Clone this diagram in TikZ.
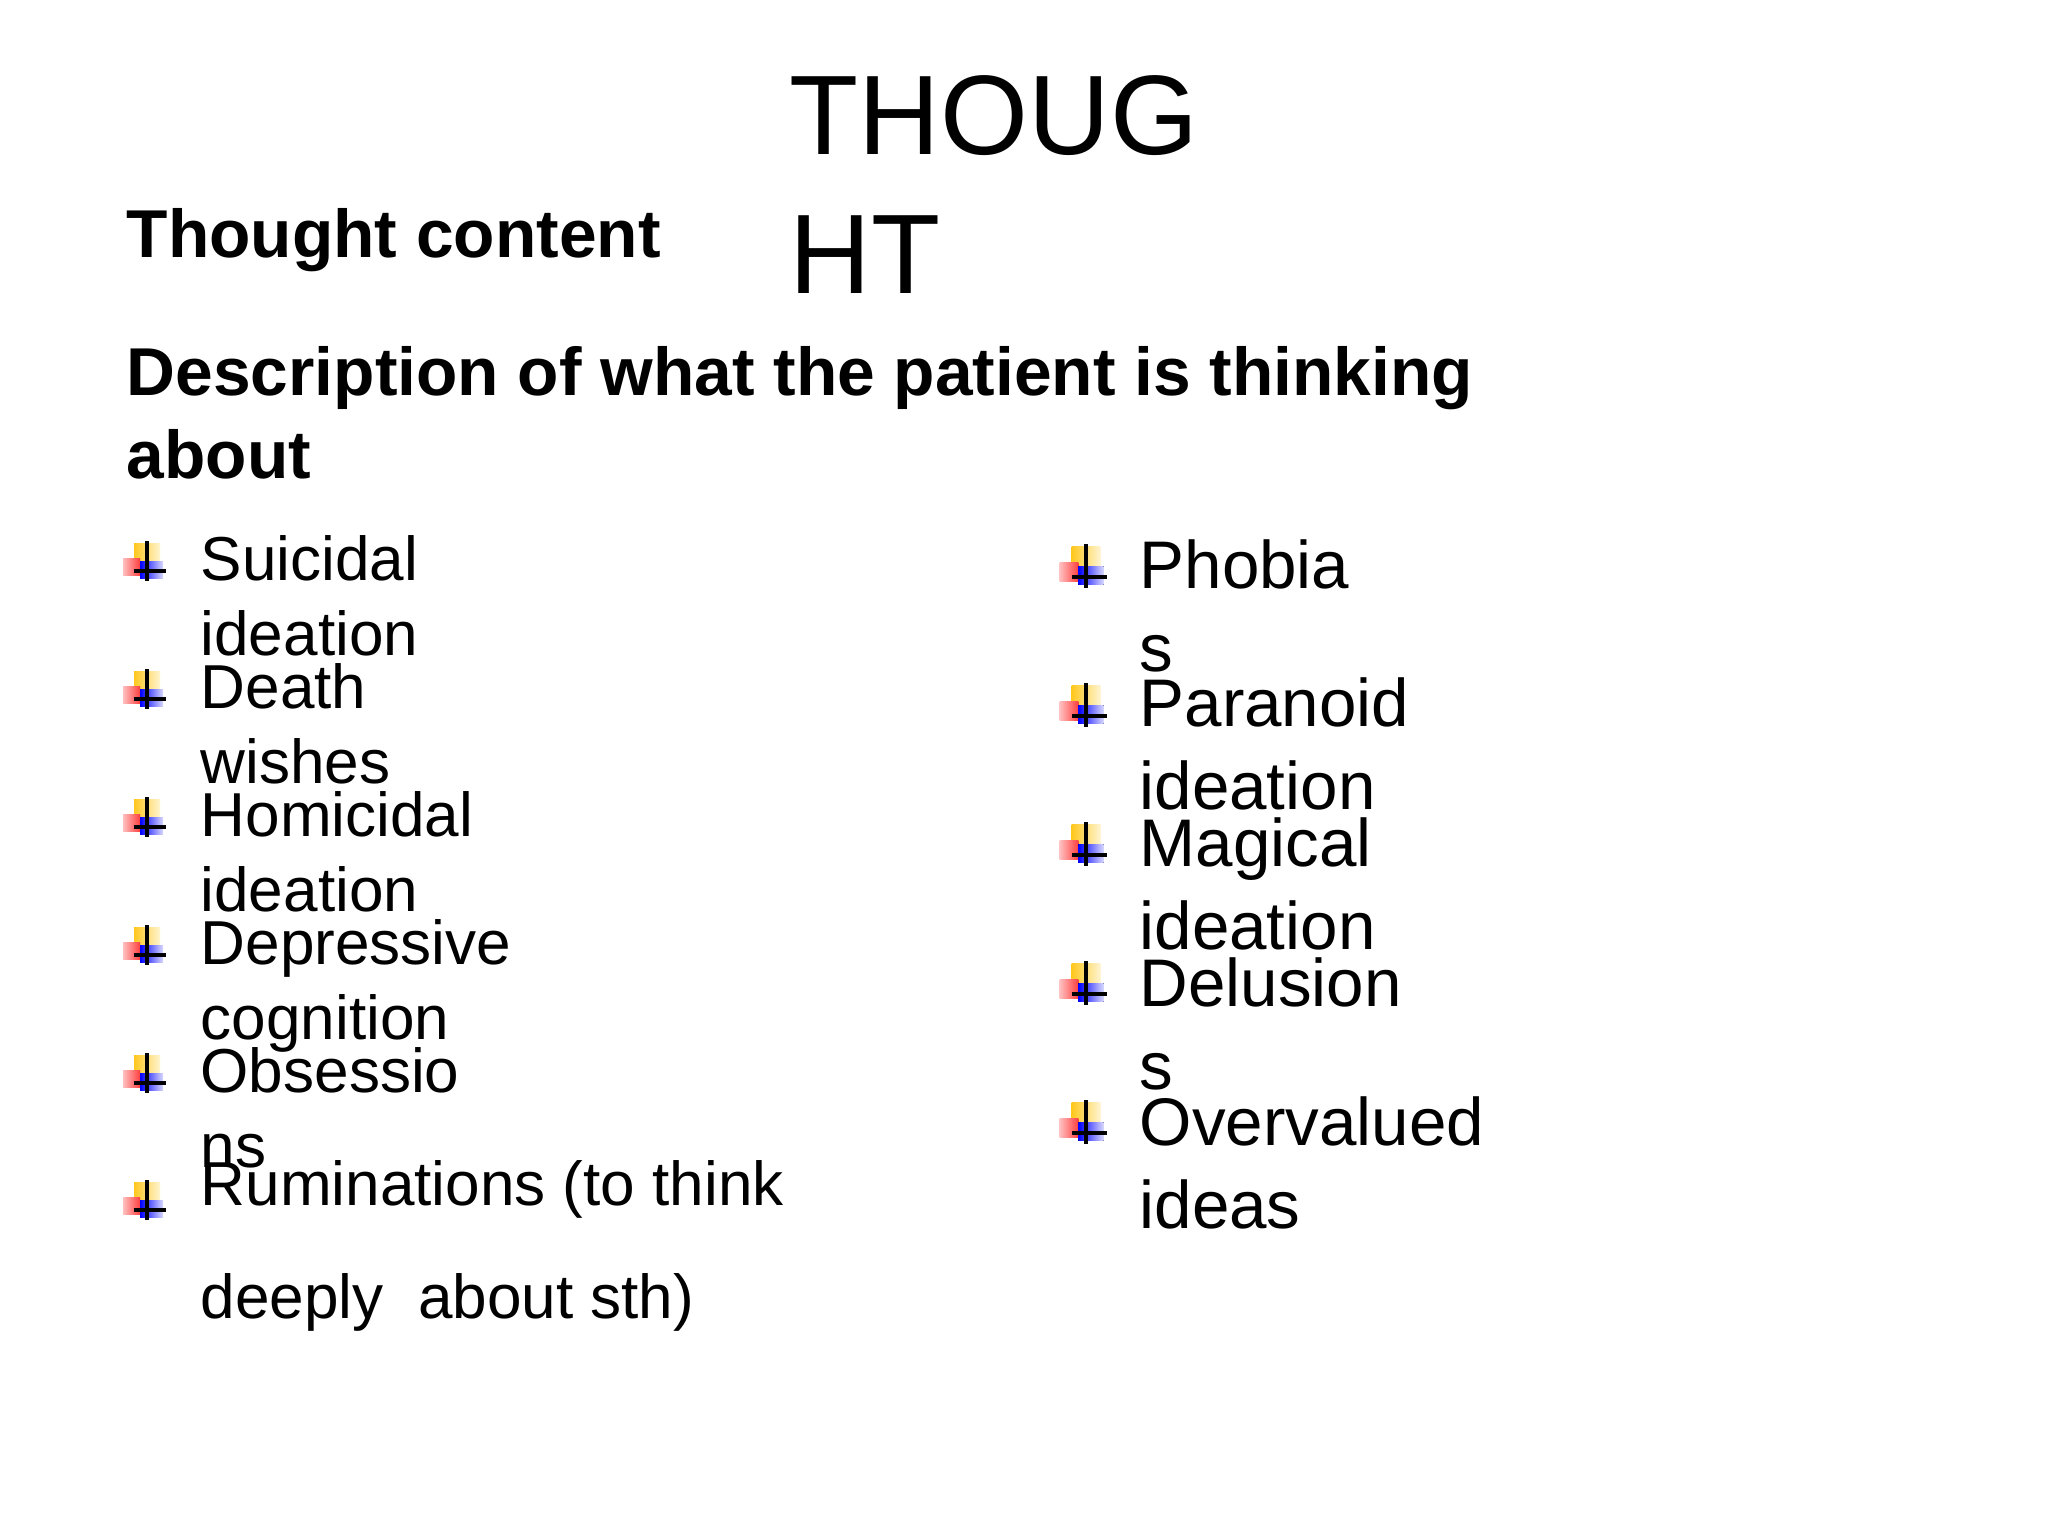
\documentclass[tikz,border=0pt]{standalone}
\usepackage{fontspec}
\setmainfont{Liberation Sans}
\definecolor{bulletyellow}{RGB}{255,200,30}
\tikzset{
    titletext/.style={anchor=base west,align=left,inner sep=0pt,font=\fontsize{32.15}{39.4}\selectfont},
    headtext/.style={anchor=base west,align=left,inner sep=0pt,font=\fontsize{19.25}{23.4}\selectfont\bfseries},
    leftitem/.style={anchor=base west,align=left,inner sep=0pt,font=\fontsize{17.65}{21.2}\selectfont},
    longitem/.style={anchor=base west,align=left,inner sep=0pt,font=\fontsize{17.65}{32}\selectfont},
    rightitem/.style={anchor=base west,align=left,inner sep=0pt,font=\fontsize{19.15}{23.4}\selectfont},
    bulletmark/.pic={
        \fill[left color=bulletyellow,right color=bulletyellow!20] (-13,-28) rectangle (13,-10);
        \fill[left color=red!25,right color=red!75] (-24,-13) rectangle (-7,4);
        \fill[left color=blue,right color=blue!15] (-7,-10) rectangle (16,7);
        \draw[line width=1.4pt,black] (0,-30) -- (0,10);
        \draw[line width=1.4pt,black] (-13,0) -- (19,0);
    }
}
\begin{document}
\begin{tikzpicture}[x=0.01cm,y=-0.01cm]
    \useasboundingbox (0,0) rectangle (2048,1536);
    \node[titletext] (title) at (789,293) {THOUG\\HT};
    \node[headtext] (content) at (126,257) {Thought content};
    \node[headtext] (descr) at (126,478) {Description of what the patient is thinking\\about};
    % left column
    \pic at (147,571) {bulletmark};
    \node[leftitem] (suicidal) at (200,655) {Suicidal\\ideation};
    \pic at (147,699) {bulletmark};
    \node[leftitem] (death) at (200,783) {Death\\wishes};
    \pic at (147,827) {bulletmark};
    \node[leftitem] (homicidal) at (200,911) {Homicidal\\ideation};
    \pic at (147,955) {bulletmark};
    \node[leftitem] (depressive) at (200,1039) {Depressive\\cognition};
    \pic at (147,1083) {bulletmark};
    \node[leftitem] (obsessions) at (200,1167) {Obsessio\\ns};
    \pic at (147,1210) {bulletmark};
    \node[longitem] (ruminations) at (200,1318) {Ruminations (to think\\deeply\ \ about sth)};
    % right column
    \pic[scale=1.1] at (1086,577) {bulletmark};
    \node[rightitem] (phobias) at (1139,671) {Phobia\\s};
    \pic[scale=1.1] at (1086,716) {bulletmark};
    \node[rightitem] (paranoid) at (1139,809) {Paranoid\\ideation};
    \pic[scale=1.1] at (1086,855) {bulletmark};
    \node[rightitem] (magical) at (1139,949) {Magical\\ideation};
    \pic[scale=1.1] at (1086,994) {bulletmark};
    \node[rightitem] (delusions) at (1139,1089) {Delusion\\s};
    \pic[scale=1.1] at (1086,1133) {bulletmark};
    \node[rightitem] (overvalued) at (1139,1228) {Overvalued\\ideas};
\end{tikzpicture}
\end{document}
